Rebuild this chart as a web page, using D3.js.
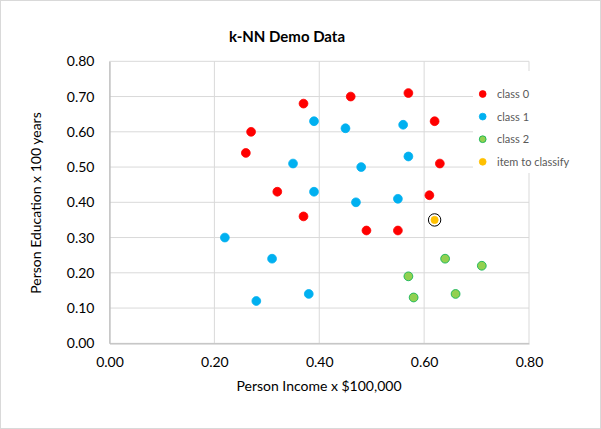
<!DOCTYPE html>
<html><head><meta charset="utf-8">
<script src="https://cdn.jsdelivr.net/npm/d3@7"></script>
<style>body{margin:0;background:#fff;}svg{display:block;font-family:Lato,"Open Sans",sans-serif;}</style>
</head><body>
<svg id="c" width="601" height="429"></svg>
<script>
const class0 = [[0.37,0.68],[0.27,0.60],[0.26,0.54],[0.32,0.43],[0.37,0.36],[0.46,0.70],[0.57,0.71],[0.62,0.63],[0.63,0.51],[0.61,0.42],[0.49,0.32],[0.55,0.32]];
const class1 = [[0.39,0.63],[0.45,0.61],[0.35,0.51],[0.39,0.43],[0.56,0.62],[0.57,0.53],[0.48,0.50],[0.47,0.40],[0.55,0.41],[0.22,0.30],[0.31,0.24],[0.28,0.12],[0.38,0.14]];
const class2 = [[0.64,0.24],[0.71,0.22],[0.57,0.19],[0.58,0.13],[0.66,0.14]];
const itemToClassify = [[0.62,0.35]];
const xTicks = [0,0.2,0.4,0.6,0.8];
const yTicks = [0,0.1,0.2,0.3,0.4,0.5,0.6,0.7,0.8];
const seriesNames = ["class 0","class 1","class 2","item to classify"];
const title = "k-NN Demo Data";
const xTitle = "Person Income x $100,000";
const yTitle = "Person Education x 100 years";

const svg = d3.select("#c");
svg.append("rect").attr("x",0.5).attr("y",0.5).attr("width",600).attr("height",428).attr("fill","#fff").attr("stroke","#D9D9D9");

const x = d3.scaleLinear().domain([0,0.8]).range([109.5,529]);
const y = d3.scaleLinear().domain([0,0.8]).range([343.3,61.3]);

const g = svg.append("g");
g.selectAll(".vg").data(xTicks).join("line").attr("x1",d=>x(d)).attr("x2",d=>x(d)).attr("y1",y(0)).attr("y2",y(0.8)).attr("stroke","#D9D9D9");
g.selectAll(".hg").data(yTicks).join("line").attr("x1",x(0)).attr("x2",x(0.8)).attr("y1",d=>y(d)).attr("y2",d=>y(d)).attr("stroke","#D9D9D9");
const xa = svg.append("g").attr("transform",`translate(0,${y(0)})`).call(d3.axisBottom(x).tickValues(xTicks).tickFormat(d3.format(".2f")).tickSize(0).tickPadding(14));
const ya = svg.append("g").attr("transform",`translate(${x(0)},0)`).call(d3.axisLeft(y).tickValues(yTicks).tickFormat(d3.format(".2f")).tickSize(0).tickPadding(15));
[xa,ya].forEach(a=>{a.select(".domain").attr("stroke","#BFBFBF").attr("stroke-width",1.3);a.selectAll("text").attr("font-size",14).attr("fill","#000").attr("font-family","Lato, sans-serif");});

const series = [
  {data:class0, fill:"#FF0000", stroke:"#FF0000", r:4.4},
  {data:class1, fill:"#00B0F0", stroke:"#00B0F0", r:4.4},
  {data:class2, fill:"#92D050", stroke:"#00B050", r:4.4},
  {data:itemToClassify, fill:"#FFC000", stroke:"#FFC000", r:3.6}
];
series.forEach(s=>{
  svg.append("g").selectAll("circle").data(s.data).join("circle")
    .attr("cx",d=>x(d[0])).attr("cy",d=>y(d[1])).attr("r",s.r)
    .attr("fill",s.fill).attr("stroke",s.stroke).attr("stroke-width",0.8);
});
svg.append("g").selectAll("circle").data(itemToClassify).join("circle")
  .attr("cx",d=>x(d[0])).attr("cy",d=>y(d[1])).attr("r",6.2)
  .attr("fill","none").attr("stroke","#000").attr("stroke-width",1);

const lg = svg.append("g");
lg.append("rect").attr("x",473).attr("y",71).attr("width",110).attr("height",102).attr("fill","#fff");
seriesNames.forEach((n,i)=>{
  const yy = 94 + i*22.6;
  lg.append("circle").attr("cx",482.7).attr("cy",yy).attr("r",3.4).attr("fill",series[i].fill).attr("stroke",series[i].stroke).attr("stroke-width",0.8);
  lg.append("text").attr("x",497).attr("y",yy+4).attr("font-size",11).attr("fill","#595959").text(n);
});

svg.append("text").attr("x",287).attr("y",42).attr("text-anchor","middle").attr("font-size",15).attr("font-weight","bold").attr("fill","#000").text(title);
svg.append("text").attr("x",319).attr("y",391).attr("text-anchor","middle").attr("font-size",14).attr("fill","#000").text(xTitle);
svg.append("text").attr("transform","translate(41,203) rotate(-90)").attr("text-anchor","middle").attr("font-size",14).attr("fill","#000").text(yTitle);
</script>
</body></html>
